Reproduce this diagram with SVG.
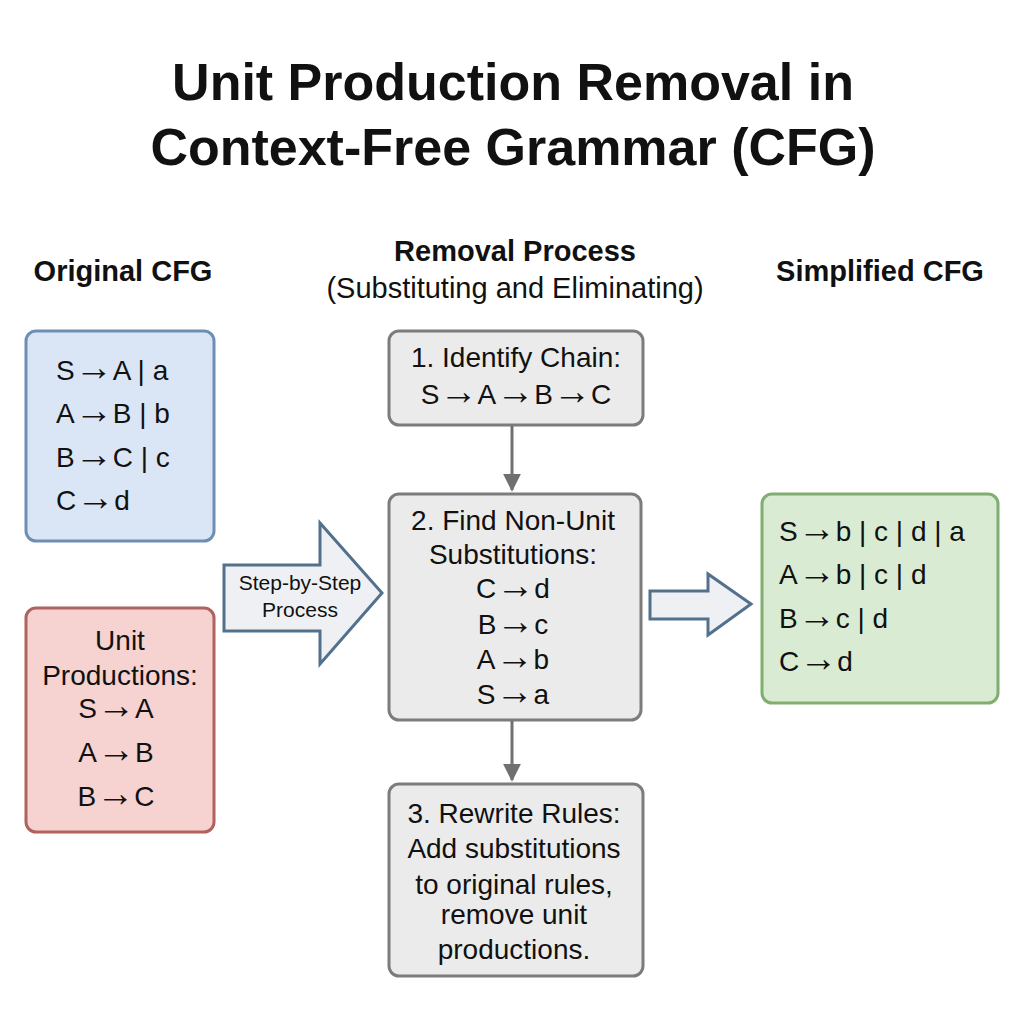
<svg xmlns="http://www.w3.org/2000/svg" width="1024" height="1024" viewBox="0 0 1024 1024">
<defs>
<style>
text{font-family:"Liberation Sans",Arial,sans-serif;fill:#111;}
.title{font-size:52px;font-weight:bold;text-anchor:middle;}
.hdr{font-size:29px;font-weight:bold;text-anchor:middle;}
.sub{font-size:29px;text-anchor:middle;}
.t{font-size:28px;}
.c{font-size:28px;text-anchor:middle;}
.ar{font-size:38px;}
.gray{fill:#ebebeb;stroke:#7c7c7c;stroke-width:3;}
.blue{fill:#dae6f6;stroke:#6d8fb4;stroke-width:3;}
.red{fill:#f6d2d0;stroke:#b0625e;stroke-width:3;}
.green{fill:#d9ecd3;stroke:#80ad70;stroke-width:3;}
.barrow{fill:#eef0f3;stroke:#53708d;stroke-width:3;stroke-linejoin:miter;}
.conn{stroke:#707070;stroke-width:3;fill:none;}
</style>
<marker id="ah" viewBox="0 0 10 10" refX="9" refY="5" markerWidth="6" markerHeight="6" markerUnits="strokeWidth" orient="auto">
<path d="M0,0 L10,5 L0,10 z" fill="#707070"/>
</marker>
</defs>
<rect width="1024" height="1024" fill="#ffffff"/>
<text class="title" x="513" y="100">Unit Production Removal in</text>
<text class="title" x="513" y="165">Context-Free Grammar (CFG)</text>
<text class="hdr" x="123" y="281">Original CFG</text>
<text class="hdr" x="515" y="261">Removal Process</text>
<text class="sub" x="515" y="298">(Substituting and Eliminating)</text>
<text class="hdr" x="880" y="281">Simplified CFG</text>

<g id="original">
<rect class="blue" x="26" y="331" width="188" height="210" rx="10"/>
<text class="t" x="56" y="380">S<tspan class="ar">→</tspan>A | a</text>
<text class="t" x="56" y="423">A<tspan class="ar">→</tspan>B | b</text>
<text class="t" x="56" y="467">B<tspan class="ar">→</tspan>C | c</text>
<text class="t" x="56" y="510">C<tspan class="ar">→</tspan>d</text>
</g>

<g id="unit">
<rect class="red" x="26" y="608" width="188" height="224" rx="10"/>
<text class="c" x="120" y="650">Unit</text>
<text class="c" x="120" y="685">Productions:</text>
<text class="c" x="116" y="718">S<tspan class="ar">→</tspan>A</text>
<text class="c" x="116" y="762">A<tspan class="ar">→</tspan>B</text>
<text class="c" x="116" y="806">B<tspan class="ar">→</tspan>C</text>
</g>

<g id="stepArrow">
<path class="barrow" d="M224,565 L320,565 L320,523 L382,593 L320,664 L320,631 L224,631 Z"/>
<text x="300" y="590" style="font-size:21px;text-anchor:middle">Step-by-Step</text>
<text x="300" y="617" style="font-size:21px;text-anchor:middle">Process</text>
</g>

<g id="step1">
<rect class="gray" x="389" y="331" width="254" height="94" rx="10"/>
<text class="c" x="516" y="367">1. Identify Chain:</text>
<text class="c" x="516" y="404">S<tspan class="ar">→</tspan>A<tspan class="ar">→</tspan>B<tspan class="ar">→</tspan>C</text>
</g>

<g id="step2">
<rect class="gray" x="389" y="494" width="252" height="226" rx="10"/>
<text class="c" x="513" y="530">2. Find Non-Unit</text>
<text class="c" x="513" y="564">Substitutions:</text>
<text class="c" x="513" y="598">C<tspan class="ar">→</tspan>d</text>
<text class="c" x="513" y="634">B<tspan class="ar">→</tspan>c</text>
<text class="c" x="513" y="669">A<tspan class="ar">→</tspan>b</text>
<text class="c" x="513" y="704">S<tspan class="ar">→</tspan>a</text>
</g>

<g id="step3">
<rect class="gray" x="389" y="784" width="254" height="192" rx="10"/>
<text class="c" x="514" y="823">3. Rewrite Rules:</text>
<text class="c" x="514" y="858">Add substitutions</text>
<text class="c" x="514" y="894">to original rules,</text>
<text class="c" x="514" y="924">remove unit</text>
<text class="c" x="514" y="959">productions.</text>
</g>

<g id="resultArrow">
<path class="barrow" d="M650,591 L708,591 L708,574 L751,604 L708,635 L708,619 L650,619 Z"/>
</g>

<g id="simplified">
<rect class="green" x="762" y="494" width="236" height="209" rx="10"/>
<text class="t" x="779" y="541">S<tspan class="ar">→</tspan>b | c | d | a</text>
<text class="t" x="779" y="584">A<tspan class="ar">→</tspan>b | c | d</text>
<text class="t" x="779" y="628">B<tspan class="ar">→</tspan>c | d</text>
<text class="t" x="779" y="671">C<tspan class="ar">→</tspan>d</text>
</g>

<g id="connectors">
<line class="conn" x1="512" y1="426" x2="512" y2="490" marker-end="url(#ah)"/>
<line class="conn" x1="512" y1="721" x2="512" y2="780" marker-end="url(#ah)"/>
</g>
</svg>
